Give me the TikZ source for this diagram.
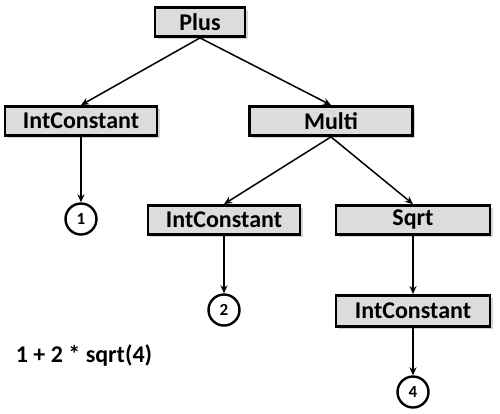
\documentclass[tikz,border=0pt]{standalone}
\usepackage{fontspec}
\setmainfont{Carlito}
\usetikzlibrary{arrows.meta,shadows}
\begin{document}
\begin{tikzpicture}[x=1pt,y=-1pt,
  box/.style={draw=black,line width=2.8pt,fill=boxgray,minimum height=29pt,inner sep=0pt,
    font=\fontsize{24}{28}\selectfont\bfseries,
    drop shadow={shadow xshift=2.5pt,shadow yshift=-2.5pt,opacity=0.35}},
  leaf/.style={draw=black,circle,line width=2.4pt,fill=white,minimum size=31pt,inner sep=0pt,
    font=\fontsize{17}{20}\selectfont\bfseries},
  edge/.style={-{Stealth[length=8pt,width=7pt]},line width=1.5pt}]
\definecolor{boxgray}{HTML}{DCDCDC}
\useasboundingbox (0,0) rectangle (500,413);
\node[box,minimum width=90pt]  (plus)  at (200,22)  {Plus};
\node[box,minimum width=152pt] (ic1)   at (81,121)  {IntConstant};
\node[box,minimum width=163pt] (multi) at (331,121) {Multi};
\node[leaf] (one) at (81,219) {1};
\node[box,minimum width=152pt] (ic2)   at (224,220) {IntConstant};
\node[box,minimum width=154pt] (sqrt)  at (413,220) {Sqrt};
\node[leaf] (two) at (224,310) {2};
\node[box,minimum width=154pt,minimum height=31pt] (ic3) at (413,311) {IntConstant};
\node[leaf] (four) at (413,392) {4};
\node[font=\fontsize{24}{28}\selectfont\bfseries] (expr) at (84,355) {1 + 2 * sqrt(4)};
\draw[edge] (plus.south) -- (ic1.north);
\draw[edge] (plus.south) -- (multi.north);
\draw[edge] (ic1.south) -- (one.north);
\draw[edge] (multi.south) -- (ic2.north);
\draw[edge] (multi.south) -- (sqrt.north);
\draw[edge] (ic2.south) -- (two.north);
\draw[edge] (sqrt.south) -- (ic3.north);
\draw[edge] (ic3.south) -- (four.north);
\end{tikzpicture}
\end{document}
